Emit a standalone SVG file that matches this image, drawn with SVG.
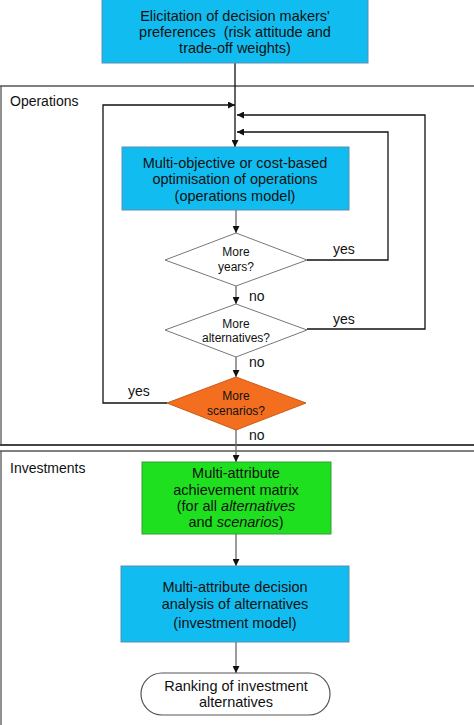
<svg xmlns="http://www.w3.org/2000/svg" width="474" height="725" viewBox="0 0 474 725">
<defs>
<marker id="ah" viewBox="0 0 10 10" refX="10" refY="5" markerWidth="7" markerHeight="7" orient="auto" markerUnits="userSpaceOnUse"><path d="M0,0 L10,5 L0,10 z" fill="#111"/></marker>
<style>
text{font-family:"Liberation Sans",Arial,sans-serif;fill:#111;text-anchor:middle}
.box{stroke:#5a8fb0;stroke-width:1}
.blue{fill:#11bdf0}
.t{font-size:14.5px}
.d{font-size:12px}
.lbl{font-size:14px;text-anchor:start}
.c{fill:none;stroke:#111;stroke-width:1.3}
.g{fill:none;stroke:#666;stroke-width:1.3}
.frame{fill:none;stroke:#555;stroke-width:1.3}
</style>
</defs>
<rect width="474" height="725" fill="#fff"/>
<g id="frame">
<line class="frame" x1="0" y1="86" x2="474" y2="86"/>
<line class="frame" x1="1" y1="86" x2="1" y2="445"/>
<line x1="0" y1="445" x2="474" y2="445" stroke="#444" stroke-width="2"/>
<line class="frame" x1="0" y1="451" x2="474" y2="451"/>
<line class="frame" x1="1" y1="451" x2="1" y2="725"/>
<text class="lbl" x="10" y="106">Operations</text>
<text class="lbl" x="10" y="473">Investments</text>
</g>
<g id="connectors">
<line class="c" x1="235" y1="63" x2="235" y2="147" marker-end="url(#ah)"/>
<polyline class="c" points="167,403 103,403 103,105 235,105" marker-end="url(#ah)"/>
<polyline class="c" points="307,329 425,329 425,115 237,115" marker-end="url(#ah)"/>
<polyline class="c" points="307,260 388,260 388,132 237,132" marker-end="url(#ah)"/>
<line class="g" x1="236" y1="210" x2="236" y2="233" marker-end="url(#ah)"/>
<line class="g" x1="236" y1="286" x2="236" y2="304" marker-end="url(#ah)"/>
<line class="g" x1="236" y1="357" x2="236" y2="377" marker-end="url(#ah)"/>
<line class="g" x1="236" y1="430" x2="236" y2="462" marker-end="url(#ah)"/>
<line class="g" x1="236" y1="534" x2="236" y2="566" marker-end="url(#ah)"/>
<line class="g" x1="236" y1="642" x2="236" y2="673" marker-end="url(#ah)"/>
<text class="lbl" x="333" y="254">yes</text>
<text class="lbl" x="333" y="324">yes</text>
<text class="lbl" x="128" y="396">yes</text>
<text class="lbl" x="249" y="301">no</text>
<text class="lbl" x="249" y="367">no</text>
<text class="lbl" x="249" y="440">no</text>
</g>
<g id="elicitation">
<rect class="box blue" x="102" y="-1" width="266" height="64"/>
<text class="t" x="235" y="21">Elicitation of decision makers'</text>
<text class="t" x="235" y="37">preferences &#160;(risk attitude and</text>
<text class="t" x="235" y="53">trade-off weights)</text>
</g>
<g id="optimisation">
<rect class="box blue" x="122" y="147" width="227" height="63"/>
<text class="t" x="235" y="168">Multi-objective or cost-based</text>
<text class="t" x="235" y="184">optimisation of operations</text>
<text class="t" x="235" y="201">(operations model)</text>
</g>
<g id="years">
<polygon points="236,233 307,260 236,286 165,260" fill="#fff" stroke="#777" stroke-width="1"/>
<text class="d" x="236" y="256">More</text>
<text class="d" x="236" y="271">years?</text>
</g>
<g id="alternatives">
<polygon points="236,304 307,330 236,357 165,330" fill="#fff" stroke="#777" stroke-width="1"/>
<text class="d" x="236" y="328">More</text>
<text class="d" x="236" y="342">alternatives?</text>
</g>
<g id="scenarios">
<polygon points="236,377 306,403 236,430 167,403" fill="#f36f1f" stroke="#c85a18" stroke-width="1"/>
<text class="d" x="236" y="400">More</text>
<text class="d" x="236" y="415">scenarios?</text>
</g>
<g id="matrix">
<rect x="142" y="462" width="189" height="72" fill="#1ee01e" stroke="#3a9a3a" stroke-width="1"/>
<text class="t" x="236" y="478">Multi-attribute</text>
<text class="t" x="236" y="495">achievement matrix</text>
<text class="t" x="236" y="511">(for all <tspan font-style="italic">alternatives</tspan></text>
<text class="t" x="236" y="527">and <tspan font-style="italic">scenarios</tspan>)</text>
</g>
<g id="decision">
<rect class="box blue" x="121" y="566" width="228" height="76"/>
<text class="t" x="235" y="592">Multi-attribute decision</text>
<text class="t" x="235" y="609">analysis of alternatives</text>
<text class="t" x="235" y="628">(investment model)</text>
</g>
<g id="ranking">
<rect x="141" y="673" width="189" height="42" rx="21" ry="21" fill="#fff" stroke="#555" stroke-width="1.2"/>
<text class="t" x="236" y="691">Ranking of investment</text>
<text class="t" x="236" y="707">alternatives</text>
</g>
</svg>
